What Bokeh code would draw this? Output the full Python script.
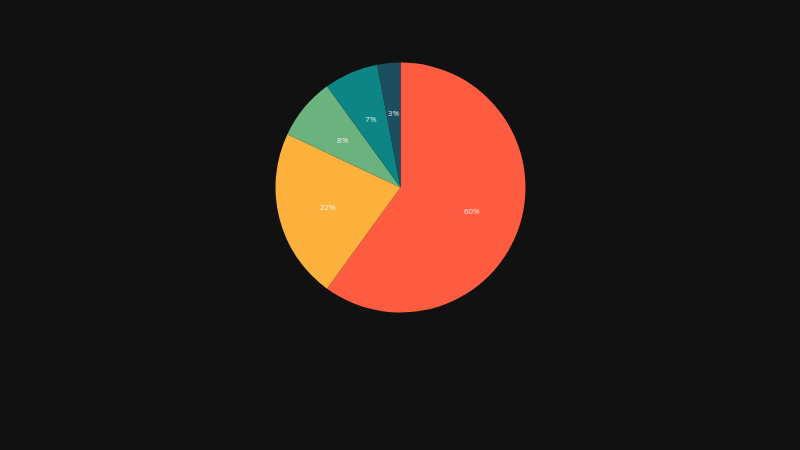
import math
from bokeh.plotting import figure
from bokeh.models import ColumnDataSource, Range1d
from bokeh.core.properties import value
from bokeh.embed import file_html
from bokeh.resources import INLINE

categories = ["A", "B", "C", "D", "E"]
shares = [60, 22, 8, 7, 3]
labels = ["60%", "22%", "8%", "7%", "3%"]
colors = ["#FD5C41", "#FBB13C", "#6CB27F", "#0D8585", "#1D4E5F"]

W, H = 800, 450
cx, cy = 400, 187  # pie centre in frame pixels from left/top
R = 125

total = float(sum(shares))
starts, ends, lx, ly = [], [], [], []
cum = 0.0
for s in shares:
    a0 = math.pi / 2 - 2 * math.pi * cum / total
    cum += s
    a1 = math.pi / 2 - 2 * math.pi * cum / total
    starts.append(a0)
    ends.append(a1)
    mid = (a0 + a1) / 2
    lx.append(0.6 * R * math.cos(mid))
    ly.append(0.6 * R * math.sin(mid))

src = ColumnDataSource(dict(cat=categories, start=starts, end=ends, color=colors,
                            label=labels, lx=lx, ly=ly))

p = figure(width=W, height=H, output_backend="svg", toolbar_location=None,
           x_range=Range1d(-cx, W - cx), y_range=Range1d(-(H - cy), cy),
           min_border=0, background_fill_color="#111111",
           border_fill_color="#111111", outline_line_color=None)
p.axis.visible = False
p.grid.visible = False

p.wedge(x=0, y=0, radius=R, start_angle="start", end_angle="end",
        direction="clock", fill_color="color", line_color=None, source=src)
p.text(x="lx", y="ly", text="label", source=src, text_align="center",
       text_baseline="middle", text_font=value("Open Sans"),
       text_font_size="8px", text_color="#ffffff", text_alpha=0.85)

html = file_html(p, INLINE)
html = html.replace("<head>", "<head><style>html,body{margin:0;padding:0;background:#111111;overflow:hidden}</style>", 1)
open("out.html", "w").write(html)
